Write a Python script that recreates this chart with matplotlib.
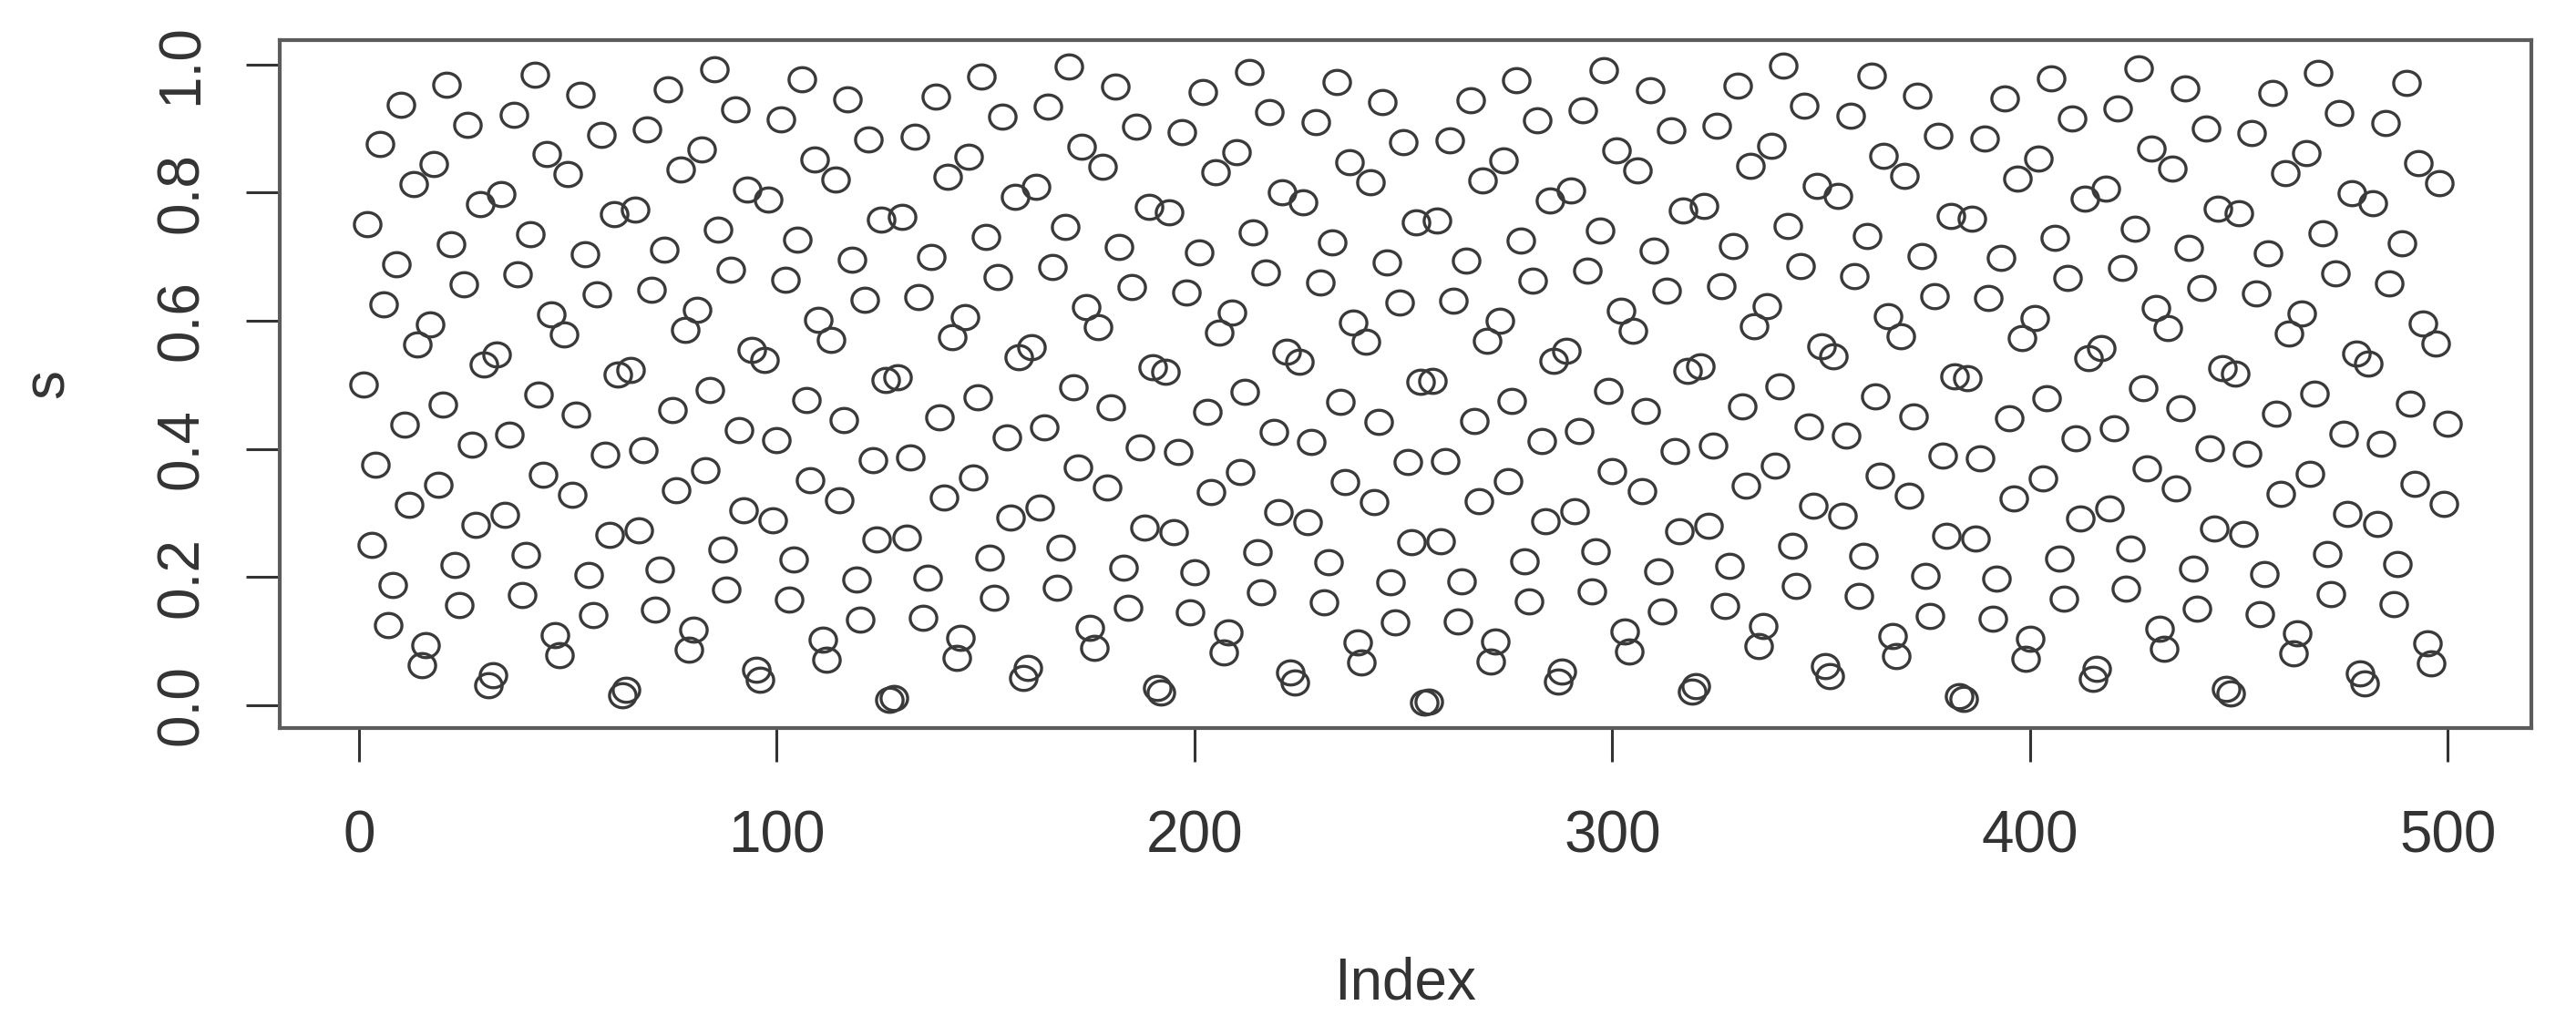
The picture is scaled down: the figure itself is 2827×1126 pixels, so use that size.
import numpy as np
import matplotlib
matplotlib.use("Agg")
from matplotlib import pyplot as plt
from matplotlib.path import Path

plt.rcParams['font.family'] = ['Liberation Sans', 'DejaVu Sans']

# s values, in units of 1/512, one list per run of 32 points
s_001_031 = [256, 384, 128, 192, 448, 320, 64, 96, 352, 480, 224, 160, 416, 288, 32, 48,
             304, 432, 176, 240, 496, 368, 112, 80, 336, 464, 208, 144, 400, 272, 16]
s_032_063 = [24, 280, 408, 152, 216, 472, 344, 88, 120, 376, 504, 248, 184, 440, 312, 56,
             40, 296, 424, 168, 232, 488, 360, 104, 72, 328, 456, 200, 136, 392, 264, 8]
s_064_095 = [12, 268, 396, 140, 204, 460, 332, 76, 108, 364, 492, 236, 172, 428, 300, 44,
             60, 316, 444, 188, 252, 508, 380, 124, 92, 348, 476, 220, 156, 412, 284, 28]
s_096_127 = [20, 276, 404, 148, 212, 468, 340, 84, 116, 372, 500, 244, 180, 436, 308, 52,
             36, 292, 420, 164, 228, 484, 356, 100, 68, 324, 452, 196, 132, 388, 260, 4]
s_128_159 = [6, 262, 390, 134, 198, 454, 326, 70, 102, 358, 486, 230, 166, 422, 294, 38,
             54, 310, 438, 182, 246, 502, 374, 118, 86, 342, 470, 214, 150, 406, 278, 22]
s_160_191 = [30, 286, 414, 158, 222, 478, 350, 94, 126, 382, 510, 254, 190, 446, 318, 62,
             46, 302, 430, 174, 238, 494, 366, 110, 78, 334, 462, 206, 142, 398, 270, 14]
s_192_223 = [10, 266, 394, 138, 202, 458, 330, 74, 106, 362, 490, 234, 170, 426, 298, 42,
             58, 314, 442, 186, 250, 506, 378, 122, 90, 346, 474, 218, 154, 410, 282, 26]
s_224_255 = [18, 274, 402, 146, 210, 466, 338, 82, 114, 370, 498, 242, 178, 434, 306, 50,
             34, 290, 418, 162, 226, 482, 354, 98, 66, 322, 450, 194, 130, 386, 258, 2]
s_256_287 = [3, 259, 387, 131, 195, 451, 323, 67, 99, 355, 483, 227, 163, 419, 291, 35,
             51, 307, 435, 179, 243, 499, 371, 115, 83, 339, 467, 211, 147, 403, 275, 19]
s_288_319 = [27, 283, 411, 155, 219, 475, 347, 91, 123, 379, 507, 251, 187, 443, 315, 59,
             43, 299, 427, 171, 235, 491, 363, 107, 75, 331, 459, 203, 139, 395, 267, 11]
s_320_351 = [15, 271, 399, 143, 207, 463, 335, 79, 111, 367, 495, 239, 175, 431, 303, 47,
             63, 319, 447, 191, 255, 511, 383, 127, 95, 351, 479, 223, 159, 415, 287, 31]
s_352_383 = [23, 279, 407, 151, 215, 471, 343, 87, 119, 375, 503, 247, 183, 439, 311, 55,
             39, 295, 423, 167, 231, 487, 359, 103, 71, 327, 455, 199, 135, 391, 263, 7]
s_384_415 = [5, 261, 389, 133, 197, 453, 325, 69, 101, 357, 485, 229, 165, 421, 293, 37,
             53, 309, 437, 181, 245, 501, 373, 117, 85, 341, 469, 213, 149, 405, 277, 21]
s_416_447 = [29, 285, 413, 157, 221, 477, 349, 93, 125, 381, 509, 253, 189, 445, 317, 61,
             45, 301, 429, 173, 237, 493, 365, 109, 77, 333, 461, 205, 141, 397, 269, 13]
s_448_479 = [9, 265, 393, 137, 201, 457, 329, 73, 105, 361, 489, 233, 169, 425, 297, 41,
             57, 313, 441, 185, 249, 505, 377, 121, 89, 345, 473, 217, 153, 409, 281, 25]
s_480_500 = [17, 273, 401, 145, 209, 465, 337, 81, 113, 369, 497, 241, 177, 433, 305, 49,
             33, 289, 417, 161, 225]

x_ticks = [0, 100, 200, 300, 400, 500]
y_ticks = [0.0, 0.2, 0.4, 0.6, 0.8, 1.0]

s = np.concatenate([s_001_031, s_032_063, s_064_095, s_096_127, s_128_159, s_160_191,
                    s_192_223, s_224_255, s_256_287, s_288_319, s_320_351, s_352_383,
                    s_384_415, s_416_447, s_448_479, s_480_500]) / 512.0
index = np.arange(1, len(s) + 1)

# the source image is slightly stretched sideways, so the circles are a touch wide
t = np.linspace(0, 2 * np.pi, 73)
ring = Path(np.column_stack([np.cos(t), np.sin(t) / 1.1]), closed=True)

fig = plt.figure(figsize=(28.27, 11.26), dpi=100)
ax = fig.add_axes([307 / 2827, 1 - 799 / 1126, (2778 - 307) / 2827, (799 - 44) / 1126])

ax.plot(index, s, linestyle='none', marker=ring, markersize=21, markerfacecolor='none',
        markeredgecolor='#3a3a3a', markeredgewidth=2.4)

# R style axis ranges: data range plus 4 % on each side
ax.margins(x=0.04, y=0.04)

ax.set_xticks(x_ticks)
ax.set_xticklabels([str(v) for v in x_ticks])
ax.set_yticks(y_ticks)
ax.set_yticklabels(['%.1f' % v for v in y_ticks], rotation=90, va='center')

ax.tick_params(axis='both', direction='out', length=26.5, width=2.2, color='#333333',
               labelsize=46, labelcolor='#333333')
ax.tick_params(axis='x', pad=38)
ax.tick_params(axis='y', pad=29)

for sp in ax.spines.values():
    sp.set_linewidth(3.0)
    sp.set_color('#5c5c5c')

ax.set_xlabel('Index', fontsize=46, color='#333333', labelpad=73)
ax.set_ylabel('s', fontsize=46, color='#333333', labelpad=63)

fig.savefig('out.png', dpi=100, facecolor='white')
